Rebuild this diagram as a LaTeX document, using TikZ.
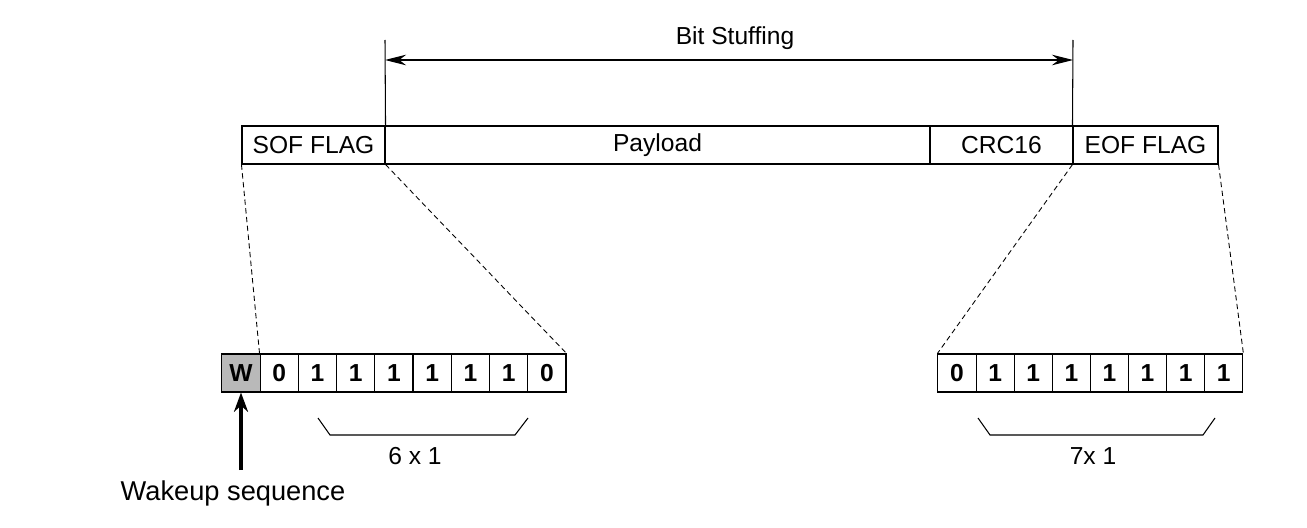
\documentclass[tikz,border=0pt]{standalone}
\usepackage{fontspec}
\setmainfont{Liberation Sans}
\usetikzlibrary{arrows.meta}
\begin{document}
\begin{tikzpicture}[x=0.02cm,y=-0.02cm,
  fld/.style={draw,line width=0.6pt,minimum height=38*0.02cm,inner sep=0pt,font=\fontsize{14}{16}\selectfont},
  bit/.style={draw,line width=0.6pt,minimum width=38.2*0.02cm,minimum height=38*0.02cm,inner sep=0pt,font=\bfseries\fontsize{14}{16}\selectfont},
  lbl/.style={font=\fontsize{14}{16}\selectfont},
  zoomline/.style={densely dashed,line width=0.5pt},
  brace/.style={line width=0.6pt}]
\useasboundingbox (0,0) rectangle (1307,527);
% fields
\node[fld,minimum width=143*0.02cm] (sof) at (313.5,145) {SOF FLAG};
\node[fld,minimum width=545*0.02cm] (pay) at (657.5,145) {Payload};
\node[fld,minimum width=143*0.02cm] (crc) at (1001.5,145) {CRC16};
\node[fld,minimum width=145*0.02cm] (eof) at (1145.5,145) {EOF FLAG};
% bit stuffing
\coordinate (bsl) at (385,40);
\coordinate (bsr) at (1073,40);
\draw[line width=0.6pt] (bsl) -- (sof.north east);
\draw[line width=0.6pt] (bsr) -- (eof.north west);
\draw[line width=0.6pt,{Stealth[length=12pt,width=6pt]}-{Stealth[length=12pt,width=6pt]}] (385,60) -- (1073,60);
\node[lbl] (bs) at (735,38) {Bit Stuffing};
% bits
\node[bit,fill=gray!55] (w) at (241,373) {W};
\foreach \b [count=\i] in {0,1,1,1,1,1,1,0}{
  \node[bit] (l\i) at ({260+38.25*\i-19.1},373) {\b};
}
\foreach \b [count=\i] in {0,1,1,1,1,1,1,1}{
  \node[bit] (r\i) at ({938+38.1*\i-19.05},373) {\b};
}
% zoom lines
\draw[zoomline] (sof.south west) -- (l1.north west);
\draw[zoomline] (sof.south east) -- (l8.north east);
\draw[zoomline] (eof.south west) -- (r1.north west);
\draw[zoomline] (eof.south east) -- (r8.north east);
% braces
\draw[brace] (318,418) -- (330,435) -- (515,435) -- (528,418);
\node[lbl] (six) at (415,456) {6 x 1};
\draw[brace] (978,418) -- (990,435) -- (1203,435) -- (1215,418);
\node[lbl] (seven) at (1093,456) {7x 1};
% wakeup
\node[font=\fontsize{15.5}{18}\selectfont] (wk) at (233,493) {Wakeup sequence};
\draw[line width=2pt,-{Stealth[length=11pt,width=8pt]}] (wk.north -| w.south) ++(0,-4) -- (w.south);
\end{tikzpicture}
\end{document}
